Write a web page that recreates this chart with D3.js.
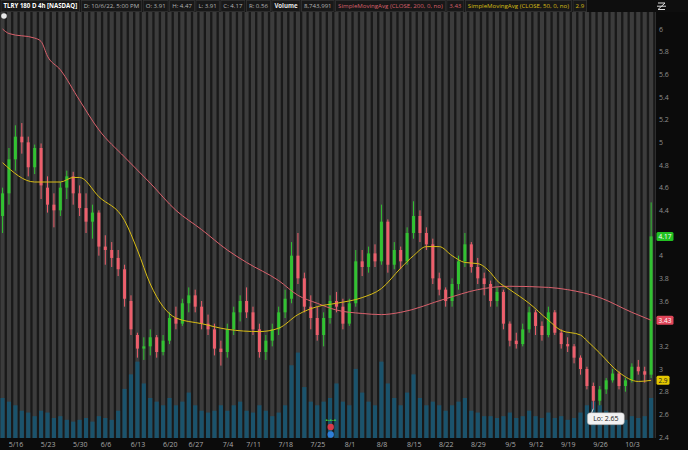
<!DOCTYPE html>
<html>
  <head>
    <meta charset="utf-8" />
    <title>TLRY 180 D 4h</title>
    <style>
      body { margin: 0; background: #0c0c0c; }
      svg { display: block; font-family: "Open Sans", sans-serif; }
    </style>
  </head>
  <body>
    <svg id="chart" width="688" height="450"></svg>
    <script src="https://d3js.org/d3.v7.min.js"></script>
    <script>
      // trading days shown on the chart
      const dates = [
        "5/12","5/13","5/16","5/17","5/18","5/19","5/20","5/23","5/24","5/25",
        "5/26","5/27","5/31","6/1","6/2","6/3","6/6","6/7","6/8","6/9",
        "6/10","6/13","6/14","6/15","6/16","6/17","6/21","6/22","6/23","6/24",
        "6/27","6/28","6/29","6/30","7/1","7/5","7/6","7/7","7/8","7/11",
        "7/12","7/13","7/14","7/15","7/18","7/19","7/20","7/21","7/22","7/25",
        "7/26","7/27","7/28","7/29","8/1","8/2","8/3","8/4","8/5","8/8",
        "8/9","8/10","8/11","8/12","8/15","8/16","8/17","8/18","8/19","8/22",
        "8/23","8/24","8/25","8/26","8/29","8/30","8/31","9/1","9/2","9/6",
        "9/7","9/8","9/9","9/12","9/13","9/14","9/15","9/16","9/19","9/20",
        "9/21","9/22","9/23","9/26","9/27","9/28","9/29","9/30","10/3","10/4",
        "10/5","10/6"
      ];
      const openP = [
        4.35,4.55,4.85,5.05,5.00,4.78,4.95,4.60,4.45,4.40,
        4.60,4.70,4.55,4.42,4.30,4.38,4.08,4.05,3.98,3.88,
        3.60,3.30,3.18,3.20,3.28,3.15,3.25,3.45,3.40,3.58,
        3.65,3.55,3.40,3.35,3.18,3.15,3.35,3.50,3.60,3.50,
        3.35,3.15,3.25,3.35,3.50,3.62,4.00,3.80,3.55,3.45,
        3.30,3.45,3.60,3.55,3.40,3.58,3.95,3.90,4.02,3.95,
        4.30,3.92,4.05,3.95,4.20,4.35,4.20,4.10,3.80,3.70,
        3.60,3.75,3.95,4.10,3.90,3.80,3.75,3.60,3.68,3.40,
        3.25,3.22,3.35,3.50,3.38,3.30,3.50,3.32,3.22,3.20,
        3.10,3.00,2.85,2.72,2.82,2.90,2.96,2.85,2.90,3.02,
        2.98,2.95
      ];
      const highP = [
        4.60,4.95,5.15,5.17,5.05,4.98,4.99,4.70,4.55,4.65,
        4.75,4.74,4.62,4.55,4.45,4.40,4.18,4.12,4.05,3.92,
        3.65,3.32,3.28,3.35,3.30,3.30,3.50,3.55,3.62,3.72,
        3.70,3.60,3.48,3.40,3.25,3.40,3.55,3.65,3.72,3.55,
        3.40,3.30,3.40,3.55,3.70,4.12,4.20,3.85,3.65,3.55,
        3.50,3.65,3.68,3.62,3.62,4.05,4.05,4.08,4.10,4.45,
        4.32,4.12,4.08,4.25,4.48,4.40,4.25,4.15,3.85,3.72,
        3.80,4.00,4.20,4.12,3.98,3.85,3.78,3.72,3.70,3.42,
        3.32,3.40,3.55,3.52,3.42,3.55,3.52,3.35,3.28,3.22,
        3.12,3.02,2.88,2.85,2.92,3.00,2.98,2.92,3.05,3.08,
        3.02,4.47
      ];
      const lowP = [
        4.20,4.45,4.75,4.90,4.70,4.72,4.50,4.38,4.25,4.35,
        4.50,4.45,4.35,4.20,4.15,4.00,3.92,3.90,3.82,3.55,
        3.30,3.10,3.08,3.12,3.10,3.12,3.22,3.35,3.38,3.50,
        3.50,3.35,3.30,3.12,3.03,3.10,3.30,3.42,3.45,3.30,
        3.10,3.08,3.20,3.30,3.45,3.58,3.75,3.50,3.35,3.25,
        3.20,3.40,3.50,3.35,3.38,3.55,3.82,3.85,3.90,3.92,
        3.85,3.88,3.88,3.92,4.15,4.12,4.05,3.75,3.65,3.55,
        3.55,3.70,3.90,3.85,3.75,3.65,3.55,3.55,3.35,3.20,
        3.18,3.20,3.32,3.30,3.25,3.28,3.30,3.18,3.15,3.05,
        2.95,2.82,2.65,2.68,2.78,2.88,2.82,2.80,2.88,2.95,
        2.88,2.92
      ];
      const closeP = [
        4.55,4.85,5.05,5.00,4.78,4.95,4.62,4.45,4.40,4.60,
        4.70,4.55,4.42,4.30,4.38,4.08,4.05,3.98,3.88,3.62,
        3.35,3.18,3.20,3.28,3.15,3.25,3.45,3.40,3.58,3.65,
        3.55,3.40,3.35,3.18,3.15,3.35,3.50,3.60,3.50,3.35,
        3.15,3.25,3.35,3.50,3.62,4.00,3.80,3.55,3.45,3.30,
        3.45,3.60,3.55,3.40,3.58,3.95,3.90,4.02,3.95,4.30,
        3.92,4.05,3.95,4.20,4.35,4.20,4.10,3.80,3.70,3.60,
        3.75,3.95,4.10,3.90,3.80,3.75,3.60,3.68,3.40,3.25,
        3.22,3.35,3.50,3.38,3.30,3.50,3.32,3.22,3.20,3.10,
        3.00,2.85,2.72,2.82,2.90,2.96,2.85,2.90,3.02,2.98,
        2.95,4.17
      ];
      // volume, millions of shares
      const volumes = [
        22,20,18,15,14,12,15,14,11,12,
        10,9,10,11,9,12,11,10,15,27,
        35,42,30,22,20,18,22,18,20,25,
        18,15,14,15,18,15,18,20,15,14,
        18,15,12,14,18,40,47,28,20,18,
        20,22,30,20,18,38,25,20,18,42,
        30,22,18,25,35,22,18,20,18,15,
        18,20,22,15,14,12,12,11,12,14,
        11,12,15,12,11,14,11,12,10,11,
        14,18,20,18,15,12,11,10,12,11,
        12,22
      ];

      // moving averages
      const sma200Dates = ["5/12","5/13","5/19","5/20","5/23","5/25","5/31","6/3","6/9","6/15","6/22","6/28","7/5","7/8","7/15","7/20","7/25","7/28","8/3","8/8","8/11","8/22","8/29","9/6","9/14","9/19","9/26","10/3","10/6"];
      const sma200Values = [6.00,5.96,5.92,5.89,5.76,5.64,5.37,5.11,4.87,4.64,4.40,4.23,4.05,3.94,3.78,3.65,3.58,3.52,3.49,3.48,3.50,3.62,3.70,3.73,3.72,3.70,3.63,3.50,3.43];
      const sma50Dates = ["5/12","5/19","5/25","5/27","5/31","6/3","6/9","6/13","6/15","6/17","6/22","6/28","7/5","7/12","7/15","7/20","7/25","7/28","8/3","8/8","8/11","8/15","8/17","8/19","8/23","8/25","8/29","8/31","9/1","9/6","9/9","9/14","9/16","9/21","9/22","9/26","9/29","10/4","10/6"];
      const sma50Values = [4.82,4.65,4.65,4.69,4.69,4.52,4.31,4.05,3.75,3.55,3.45,3.40,3.35,3.33,3.36,3.48,3.55,3.58,3.63,3.71,3.89,4.00,4.08,4.08,4.00,3.94,3.93,3.85,3.78,3.70,3.58,3.43,3.34,3.30,3.25,3.14,2.97,2.89,2.90];

      // axis labels
      const tickDates = ["5/16","5/23","5/31","6/6","6/13","6/21","6/27","7/5","7/11","7/18","7/25","8/1","8/8","8/15","8/22","8/29","9/6","9/12","9/19","9/26","10/3"];
      const tickLabels = ["5/16","5/23","5/30","6/6","6/13","6/20","6/27","7/4","7/11","7/18","7/25","8/1","8/8","8/15","8/22","8/29","9/5","9/12","9/19","9/26","10/3"];
      const priceTicks = [6,5.8,5.6,5.4,5.2,5,4.8,4.6,4.4,4.2,4,3.8,3.6,3.4,3.2,3,2.8,2.6,2.4];

      const headerItems = ["TLRY 180 D 4h [NASDAQ]","D: 10/6/22, 5:00 PM","O: 3.91","H: 4.47","L: 3.91","C: 4.17","R: 0.56","Volume","8,743,991","SimpleMovingAvg (CLOSE, 200, 0, no)","3.43","SimpleMovingAvg (CLOSE, 50, 0, no)","2.9"];
      const lastClose = 4.17, lastSma200 = 3.43, lastSma50 = 2.9;
      const earningsDate = "7/27";

      const W = 688, H = 450;
      let plot = { left: 0, right: 655, top: 12, bottom: 438 };

      const green = "#32c232", red = "#ec5f6c", pink = "#d9606b", yellow = "#d9bd14";

      let svg = d3.select("#chart");

      // background
      svg.append("rect").attr("width", W).attr("height", H).attr("fill", "#0b0b0b");
      svg.append("rect")
        .attr("x", plot.left).attr("y", plot.top)
        .attr("width", plot.right - plot.left).attr("height", plot.bottom - plot.top)
        .attr("fill", "#191919");

      // scales
      let xScale = d3.scaleBand().domain(dates).range([plot.left, plot.right]).padding(0);
      let yScale = d3.scaleLinear().domain([2.4, 6]).range([437, 29]);
      let volScale = d3.scaleLinear().domain([0, 55]).range([plot.bottom, plot.bottom - 100]);
      const step = xScale.step();
      const cx = (d) => xScale(d) + step / 2;
      const mid = (d) => xScale(d) + step * 0.32 + 0.5;

      // day stripes
      svg.append("g")
        .selectAll("rect")
        .data(dates)
        .join("rect")
        .attr("x", (d) => xScale(d) + 0.5)
        .attr("y", plot.top)
        .attr("width", step * 0.64)
        .attr("height", plot.bottom - plot.top)
        .attr("fill", "#3c3c3c");

      // volume bars
      svg.append("g")
        .selectAll("rect")
        .data(dates)
        .join("rect")
        .attr("x", (d) => xScale(d) + 0.5)
        .attr("y", (d, i) => volScale(volumes[i]))
        .attr("width", step * 0.64)
        .attr("height", (d, i) => plot.bottom - volScale(volumes[i]))
        .attr("fill", "#1b536c");

      // candles
      let candles = svg.append("g")
        .selectAll("g")
        .data(dates)
        .join("g")
        .attr("stroke", (d, i) => (closeP[i] >= openP[i] ? green : red))
        .attr("fill", (d, i) => (closeP[i] >= openP[i] ? green : red));

      candles.append("line")
        .attr("x1", (d) => mid(d))
        .attr("x2", (d) => mid(d))
        .attr("y1", (d, i) => yScale(highP[i]))
        .attr("y2", (d, i) => yScale(lowP[i]))
        .attr("stroke-width", 1);

      candles.append("rect")
        .attr("x", (d) => mid(d) - 1.5)
        .attr("y", (d, i) => yScale(Math.max(openP[i], closeP[i])))
        .attr("width", 3)
        .attr("height", (d, i) => Math.max(1, Math.abs(yScale(openP[i]) - yScale(closeP[i]))))
        .attr("stroke", "none");

      // moving averages
      let line = d3.line()
        .x((d) => mid(d[0]))
        .y((d) => yScale(d[1]))
        .curve(d3.curveMonotoneX);

      svg.append("path")
        .datum(d3.zip(sma200Dates, sma200Values))
        .attr("d", line)
        .attr("fill", "none")
        .attr("stroke", pink)
        .attr("stroke-width", 1);

      svg.append("path")
        .datum(d3.zip(sma50Dates, sma50Values))
        .attr("d", line)
        .attr("fill", "none")
        .attr("stroke", yellow)
        .attr("stroke-width", 1);

      // lowest low bubble
      let lowIdx = d3.minIndex(lowP);
      let lowX = mid(dates[lowIdx]);
      let lowY = yScale(lowP[lowIdx]);
      svg.append("line")
        .attr("x1", lowX).attr("x2", lowX - 2)
        .attr("y1", lowY).attr("y2", lowY + 5)
        .attr("stroke", "#ddd").attr("stroke-width", 1);
      svg.append("rect")
        .attr("x", lowX - 6).attr("y", lowY + 4)
        .attr("width", 37).attr("height", 12).attr("rx", 3)
        .attr("fill", "#f2f2f2").attr("stroke", "#999").attr("stroke-width", 0.5);
      svg.append("text")
        .attr("x", lowX + 12.5).attr("y", lowY + 12.5)
        .attr("text-anchor", "middle")
        .attr("font-size", 7).attr("fill", "#222")
        .text("Lo: " + lowP[lowIdx]);

      // earnings / dividend markers
      let ex = cx(earningsDate);
      svg.append("text")
        .attr("x", ex).attr("y", 422)
        .attr("text-anchor", "middle")
        .attr("font-size", 6).attr("font-weight", "bold").attr("fill", "#3bd23b")
        .text("\u2022-\u2022-\u2022");
      svg.append("circle").attr("cx", ex).attr("cy", 427).attr("r", 3.2).attr("fill", "#d83a4a");
      svg.append("circle").attr("cx", ex).attr("cy", 434.5).attr("r", 3.2).attr("fill", "#2f7fd8");

      // right price axis
      svg.append("rect")
        .attr("x", plot.right).attr("y", plot.top)
        .attr("width", W - plot.right).attr("height", H - plot.top)
        .attr("fill", "#0b0b0b");
      svg.append("line")
        .attr("x1", plot.right + 0.5).attr("x2", plot.right + 0.5)
        .attr("y1", plot.top).attr("y2", plot.bottom)
        .attr("stroke", "#2e2e2e");

      // price tags (drawn on top of the tick labels they cover)
      const tags = [
        { v: lastClose, bg: "#22c222", fg: "#ffffff", t: "4.17" },
        { v: lastSma200, bg: "#e0465a", fg: "#ffffff", t: "3.43" },
        { v: lastSma50, bg: "#e6c800", fg: "#222222", t: "2.9" }
      ];
      let shownTicks = priceTicks.filter((p) => tags.every((tg) => Math.abs(yScale(p) - yScale(tg.v)) > 6));

      let yAxis = svg.append("g")
        .attr("transform", "translate(" + (plot.right + 1) + ",0)")
        .call(d3.axisRight(yScale).tickValues(shownTicks).tickSize(0).tickFormat(d3.format("")));
      yAxis.select(".domain").remove();
      yAxis.selectAll("text")
        .attr("font-family", "'Open Sans', sans-serif")
        .attr("font-size", 7)
        .attr("fill", "#8f8f8f");

      tags.forEach(function (tg) {
        let w = tg.t.length > 3 ? 17 : 13;
        svg.append("rect")
          .attr("x", plot.right + 1.5).attr("y", yScale(tg.v) - 4.5)
          .attr("width", w).attr("height", 9).attr("rx", 1.5)
          .attr("fill", tg.bg);
        svg.append("text")
          .attr("x", plot.right + 1.5 + w / 2).attr("y", yScale(tg.v) + 2.4)
          .attr("text-anchor", "middle")
          .attr("font-size", 6.5).attr("fill", tg.fg)
          .text(tg.t);
      });

      // bottom date axis
      svg.append("rect")
        .attr("x", 0).attr("y", plot.bottom)
        .attr("width", plot.right).attr("height", H - plot.bottom)
        .attr("fill", "#0b0b0b");
      svg.append("g")
        .selectAll("text")
        .data(tickDates)
        .join("text")
        .attr("x", (d) => cx(d))
        .attr("y", 446.5)
        .attr("text-anchor", "middle")
        .attr("font-size", 7)
        .attr("fill", "#a8a8a8")
        .text((d, i) => tickLabels[i]);

      // header
      svg.append("rect").attr("width", W).attr("height", plot.top).attr("fill", "#0e0e0e");
      const headerColors = ["#ffffff","#b5b5b5","#b5b5b5","#b5b5b5","#b5b5b5","#b5b5b5","#b5b5b5","#e6e6e6","#b5b5b5",pink,pink,yellow,yellow];
      let hx = 1;
      headerItems.forEach(function (s, i) {
        let box = svg.append("rect")
          .attr("y", 0.5).attr("height", 11)
          .attr("fill", "#181818").attr("stroke", "#353535").attr("stroke-width", 0.8);
        let t = svg.append("text")
          .attr("x", hx + 2.5).attr("y", 8.3)
          .attr("font-size", 6.1)
          .attr("font-weight", i === 0 || i === 7 ? "bold" : "normal")
          .attr("fill", headerColors[i])
          .text(s);
        let len = t.node().getComputedTextLength();
        box.attr("x", hx).attr("width", len + 5);
        hx += len + 6.5;
      });

      // corner icons
      svg.append("path")
        .attr("d", "M658,3 H665 L658,9.5 H665 M657,6.2 H666")
        .attr("fill", "none").attr("stroke", "#dcdcdc").attr("stroke-width", 1);
      svg.append("circle").attr("cx", 4).attr("cy", 16).attr("r", 2.8).attr("fill", "#e8e8e8");
    </script>
  </body>
</html>
